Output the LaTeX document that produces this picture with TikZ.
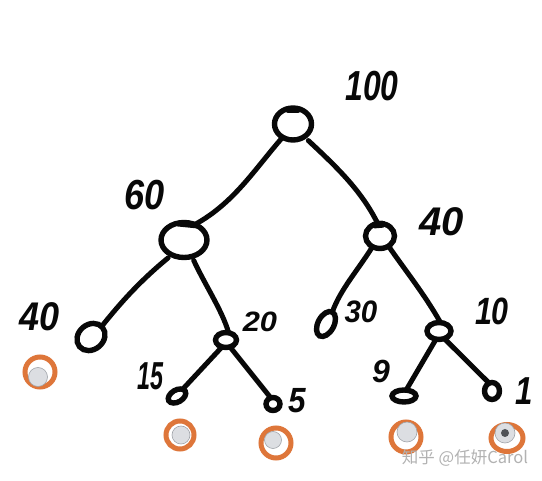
\documentclass[tikz,border=0pt]{standalone}
\usepackage{fontspec}
\usepackage{graphicx}
\setmainfont{Liberation Sans}
\newfontfamily\cjkwm{Noto Sans CJK SC}
\usetikzlibrary{shapes.geometric}
\definecolor{ink}{RGB}{8,8,8}
\definecolor{orng}{RGB}{222,118,58}
\definecolor{btn}{RGB}{220,222,226}
\definecolor{btnrim}{RGB}{160,164,170}
\definecolor{btndot}{RGB}{80,83,88}
\definecolor{wmark}{RGB}{178,178,178}
\newcommand\dlab[3]{\scalebox{#2}[1]{\fontsize{#1}{#1}\selectfont\bfseries\itshape #3}}
\tikzset{
  vert/.style={ellipse, draw=ink, line width=5.4pt, inner sep=0pt, outer sep=0pt},
  edge/.style={draw=ink, line width=5pt, line cap=round},
  lab/.style={inner sep=0pt, text=ink},
  ring/.style={circle, draw=orng, line width=5pt, inner sep=0pt},
  button/.style={circle, fill=btn, draw=btnrim, line width=0.6pt, inner sep=0pt},
}
\begin{document}
\begin{tikzpicture}[x=1pt,y=-1pt]
\useasboundingbox[fill=white] (0,0) rectangle (542,481);
% vertices
\node[vert, minimum width=37pt, minimum height=32pt] (root) at (293,124) {};
\node[vert, minimum width=46pt, minimum height=35pt] (L) at (184,240) {};
\node[vert, minimum width=29pt, minimum height=25pt] (R) at (380,236) {};
\node[vert, minimum width=30pt, minimum height=25pt, rotate=40] (LL) at (91,337) {};
\node[vert, minimum width=21pt, minimum height=15pt] (LR) at (226,340) {};
\node[vert, minimum width=27pt, minimum height=16pt, rotate=62] (RL) at (326,324) {};
\node[vert, minimum width=24pt, minimum height=17pt] (RR) at (439,331) {};
\node[vert, minimum width=19pt, minimum height=12pt, rotate=30] (n15) at (177,396) {};
\node[vert, minimum width=14pt, minimum height=13pt] (n5) at (273,404) {};
\node[vert, minimum width=24pt, minimum height=12pt] (n9) at (404,396) {};
\node[vert, minimum width=15pt, minimum height=17pt] (n1) at (492,391) {};
% extra hand strokes on tops
\draw[edge, line width=7pt] ([yshift=-0.5pt]root.72) -- ([yshift=-0.5pt]root.108);
\draw[edge, line width=4pt] ([xshift=-6pt,yshift=-2pt]L.north) -- ([xshift=14pt,yshift=-4pt]L.north);
\draw[edge, line width=7pt] ([yshift=-0.5pt]R.78) -- ([yshift=-0.5pt]R.115);
% connectors
\draw[edge] (root.-128) .. controls (254,170) and (234,203) .. (L.55);
\draw[edge] ([shift={(4pt,-4pt)}]root.-48) .. controls (340,170) and (362,192) .. (R.100);
\draw[edge] ([shift={(-2pt,-4pt)}]L.-135) .. controls (135,285) and (115,310) .. (LL.5);
\draw[edge] ([shift={(1pt,-4pt)}]L.-62) .. controls (205,285) and (222,310) .. (LR.70);
\draw[edge] (R.-125) .. controls (358,270) and (340,290) .. (RL.0);
\draw[edge] (R.-50) .. controls (405,270) and (425,295) .. (RR.80);
\draw[edge] (LR.-120) -- (n15.20);
\draw[edge] (LR.-60) -- (n5.110);
\draw[edge] (RR.-110) -- (n9.70);
\draw[edge] (RR.-55) -- (n1.110);
% labels
\node[lab] (t100) at (372,86) {\dlab{42}{0.76}{100}};
\node[lab] (t60) at (145,195) {\dlab{42}{0.86}{60}};
\node[lab] (t40r) at (442,222) {\dlab{40}{1.0}{40}};
\node[lab] (t40l) at (40,317) {\dlab{40}{0.9}{40}};
\node[lab] (t20) at (260,322) {\dlab{28}{1.1}{20}};
\node[lab] (t30) at (361,312) {\dlab{31}{0.95}{30}};
\node[lab] (t10) at (492,311) {\dlab{38}{0.8}{10}};
\node[lab] (t15) at (151,376) {\dlab{39}{0.6}{15}};
\node[lab] (t5) at (297,401) {\dlab{35}{0.9}{5}};
\node[lab] (t9) at (381,371) {\dlab{32}{1.0}{9}};
\node[lab] (t1) at (524,391) {\dlab{39}{0.8}{1}};
% orange rings with buttons
\node[ring, minimum size=30pt] (o1) at (40,372) {};
\node[button, minimum size=19pt] (b1) at (38,377) {};
\node[ring, minimum size=28pt] (o2) at (180,435) {};
\node[button, minimum size=18pt] (b2) at (181,435) {};
\node[ring, minimum size=30pt] (o3) at (276,443) {};
\node[button, minimum size=17pt] (b3) at (273,440) {};
\node[ring, minimum size=30pt] (o4) at (406,437) {};
\node[button, minimum size=20pt] (b4) at (407,432) {};
\node[ring, minimum width=32pt, minimum height=27pt, ellipse] (o5) at (507,438) {};
\node[button, minimum size=20pt] (b5) at (505,433) {};
\node[circle, fill=btndot, inner sep=0pt, minimum size=8pt] (d5) at (505,433) {};
% watermark
\node[inner sep=0pt, text=wmark] (wm) at (465,458) {\cjkwm\fontsize{16.5}{16.5}\selectfont 知乎 @任妍Carol};
\end{tikzpicture}
\end{document}
